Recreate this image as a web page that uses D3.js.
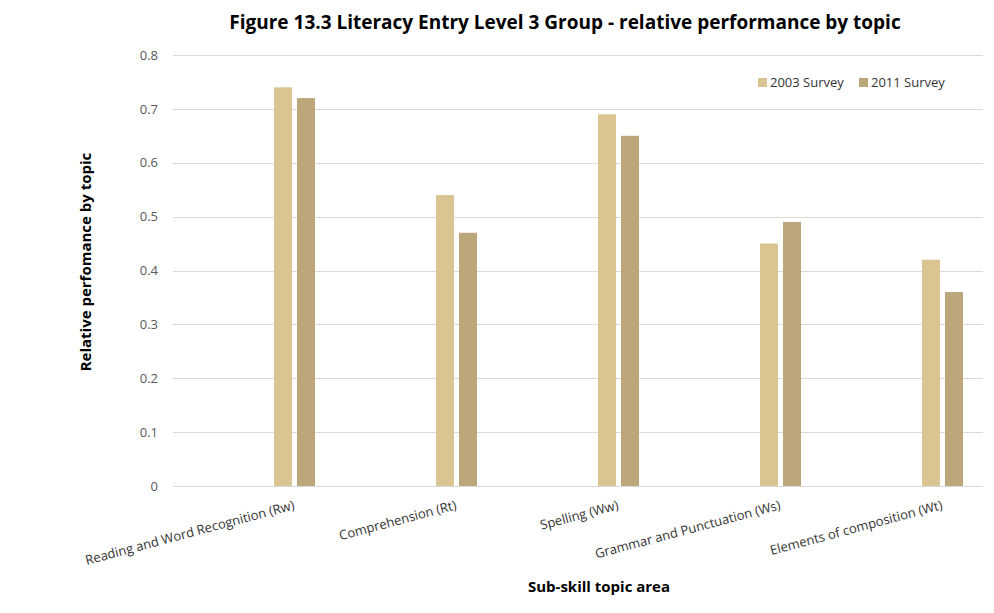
<!DOCTYPE html>
<html>
<head>
<meta charset="utf-8">
<script src="https://cdn.jsdelivr.net/npm/d3@7"></script>
<style>
  body { margin: 0; background: #fff; }
  text { font-family: "Open Sans", "Liberation Sans", sans-serif; }
</style>
</head>
<body>
<div id="chart"></div>
<script>
var widthsvg = 994;
var heightsvg = 613;

// data
var categories = ["Reading and Word Recognition (Rw)", "Comprehension (Rt)", "Spelling (Ww)",
    "Grammar and Punctuation (Ws)", "Elements of composition (Wt)"];
var seriesNames = ["2003 Survey", "2011 Survey"];
var survey2003 = [0.74, 0.54, 0.69, 0.45, 0.42];
var survey2011 = [0.72, 0.47, 0.65, 0.49, 0.36];
var yTicks = [0, 0.1, 0.2, 0.3, 0.4, 0.5, 0.6, 0.7, 0.8];
var colors = ["#DAC492", "#BCA77B"];

var plot = {left: 173, right: 983, top: 55, bottom: 486};

var svg = d3.select("#chart")
    .append("svg")
    .attr("width", widthsvg)
    .attr("height", heightsvg);

var scalex = d3.scaleBand()
    .domain(categories)
    .range([plot.left, plot.right])
    .padding(0);

// bars sit in the right part of each category slot
var bw = scalex.bandwidth();
var scaleseries = d3.scaleBand()
    .domain(seriesNames)
    .range([bw * 101 / 162, bw * 142 / 162])
    .paddingInner(0.217);

var scaley = d3.scaleLinear()
    .domain([0, 0.8])
    .range([plot.bottom, plot.top]);

// gridlines
svg.append("g")
    .selectAll("line")
    .data(yTicks)
    .enter()
    .append("line")
    .attr("x1", plot.left)
    .attr("x2", plot.right)
    .attr("y1", d => Math.round(scaley(d)) + 0.5)
    .attr("y2", d => Math.round(scaley(d)) + 0.5)
    .attr("stroke", "#D9D9D9")
    .attr("stroke-width", 1);

// y tick labels
var axisleft = d3.axisLeft(scaley)
    .tickValues(yTicks)
    .tickFormat(d => d === 0 ? "0" : d3.format(".1f")(d))
    .tickSize(0)
    .tickPadding(15);

var yAxis = svg.append("g")
    .attr("transform", `translate(${plot.left}, 0)`)
    .call(axisleft);
yAxis.select(".domain").remove();
yAxis.selectAll("text")
    .attr("fill", "#595959")
    .style("font-size", "13px")
    .style("font-family", "'Open Sans', sans-serif");

// bars
var rows = categories.map((c, i) => ({cat: c, vals: [survey2003[i], survey2011[i]]}));

var groups = svg.append("g")
    .selectAll("g")
    .data(rows)
    .enter()
    .append("g")
    .attr("transform", d => `translate(${scalex(d.cat)}, 0)`);

groups.selectAll("rect")
    .data(d => d.vals.map((v, j) => ({name: seriesNames[j], value: v, j: j})))
    .enter()
    .append("rect")
    .attr("x", d => scaleseries(d.name))
    .attr("width", scaleseries.bandwidth())
    .attr("y", d => scaley(d.value))
    .attr("height", d => scaley(0) - scaley(d.value))
    .attr("fill", d => colors[d.j]);

// category labels, rotated
var labelX = d => scalex(d) + scaleseries(seriesNames[0]) + (scaleseries(seriesNames[1]) + scaleseries.bandwidth() - scaleseries(seriesNames[0])) / 2 - 2;

svg.append("g")
    .selectAll("text")
    .data(categories)
    .enter()
    .append("text")
    .attr("transform", d => `translate(${labelX(d)}, 499) rotate(-15)`)
    .attr("text-anchor", "end")
    .attr("dy", "0.8em")
    .attr("fill", "#333")
    .style("font-size", "13px")
    .text(d => d);

// title
svg.append("text")
    .attr("x", 565)
    .attr("y", 29)
    .attr("text-anchor", "middle")
    .attr("font-weight", "bold")
    .attr("fill", "#000")
    .style("font-size", "19px")
    .text("Figure 13.3 Literacy Entry Level 3 Group - relative performance by topic");

// axis titles
svg.append("text")
    .attr("x", 599)
    .attr("y", 592)
    .attr("text-anchor", "middle")
    .attr("font-weight", "bold")
    .attr("fill", "#000")
    .style("font-size", "15px")
    .text("Sub-skill topic area");

svg.append("text")
    .attr("transform", "translate(91, 262) rotate(-90)")
    .attr("text-anchor", "middle")
    .attr("font-weight", "bold")
    .attr("fill", "#000")
    .style("font-size", "15px")
    .text("Relative perfomance by topic");

// legend
var legendX = [758, 859];
var legend = svg.append("g")
    .selectAll("g")
    .data(seriesNames)
    .enter()
    .append("g")
    .attr("transform", (d, i) => `translate(${legendX[i]}, 78)`);

legend.append("rect")
    .attr("width", 9)
    .attr("height", 9)
    .attr("fill", (d, i) => colors[i]);

legend.append("text")
    .attr("x", 12)
    .attr("y", 9)
    .attr("fill", "#333")
    .style("font-size", "13px")
    .text(d => d);
</script>
</body>
</html>
